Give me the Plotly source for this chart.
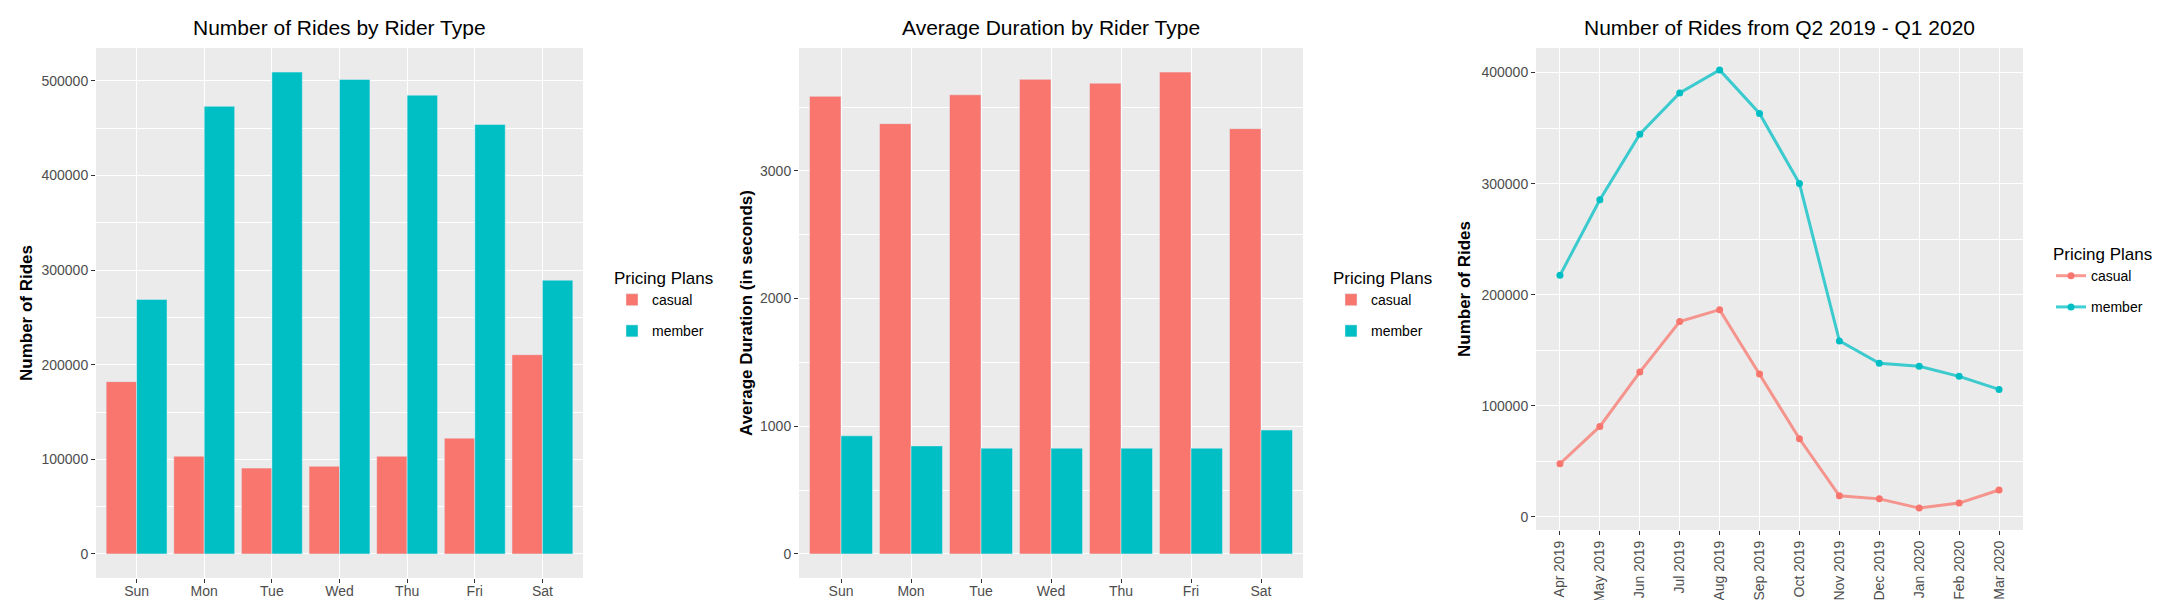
import plotly.graph_objects as go

# ---- data ----
days = ['Sun', 'Mon', 'Tue', 'Wed', 'Thu', 'Fri', 'Sat']
rides_casual = [182100, 103300, 90700, 92700, 103300, 122400, 210600]
rides_member = [269100, 473200, 509400, 501600, 485000, 454000, 289400]

duration_casual = [3584, 3370, 3596, 3717, 3687, 3774, 3331]
duration_member = [925, 846, 828, 828, 828, 828, 970]

months = ['Apr 2019', 'May 2019', 'Jun 2019', 'Jul 2019', 'Aug 2019', 'Sep 2019',
          'Oct 2019', 'Nov 2019', 'Dec 2019', 'Jan 2020', 'Feb 2020', 'Mar 2020']
monthly_casual = [47900, 81500, 130400, 175900, 186600, 128700,
                  70400, 19100, 16300, 8000, 12500, 24300]
monthly_member = [217500, 285500, 344500, 381600, 402400, 363200,
                  300100, 158500, 138400, 135600, 126600, 114800]

W, H = 2160, 600
CASUAL = '#F8766D'
MEMBER = '#00BFC4'
FONT = 'Liberation Sans, Arial, sans-serif'


def bar_range(*series):
    top = max(max(s) for s in series)
    return [-0.05 * top, 1.05 * top]


def line_range(*series):
    lo = min(min(s) for s in series)
    hi = max(max(s) for s in series)
    pad = 0.05 * (hi - lo)
    return [lo - pad, hi + pad]


fig = go.Figure()

# 1. rides by weekday
fig.add_trace(go.Bar(x=days, y=rides_casual, name='casual', marker_color=CASUAL,
                     xaxis='x', yaxis='y', legend='legend', legendgroup='c1'))
fig.add_trace(go.Bar(x=days, y=rides_member, name='member', marker_color=MEMBER,
                     xaxis='x', yaxis='y', legend='legend', legendgroup='m1'))

# 2. average duration by weekday
fig.add_trace(go.Bar(x=days, y=duration_casual, name='casual', marker_color=CASUAL,
                     xaxis='x2', yaxis='y2', legend='legend2', legendgroup='c2'))
fig.add_trace(go.Bar(x=days, y=duration_member, name='member', marker_color=MEMBER,
                     xaxis='x2', yaxis='y2', legend='legend2', legendgroup='m2'))

# 3. monthly rides
fig.add_trace(go.Scatter(x=months, y=monthly_casual, name='casual', mode='lines+markers',
                         line=dict(color='rgba(248,118,109,0.75)', width=3),
                         marker=dict(color=CASUAL, size=7),
                         xaxis='x3', yaxis='y3', legend='legend3', legendgroup='c3'))
fig.add_trace(go.Scatter(x=months, y=monthly_member, name='member', mode='lines+markers',
                         line=dict(color='rgba(0,191,196,0.75)', width=3),
                         marker=dict(color=MEMBER, size=7),
                         xaxis='x3', yaxis='y3', legend='legend3', legendgroup='m3'))

# panel geometry in pixels (left, right, top, bottom)
panels = [(88, 575, 40, 570), (791, 1295, 40, 570), (1528, 2015, 40, 522)]


def dom_x(p):
    return [p[0] / W, p[1] / W]


def dom_y(p):
    return [1 - p[3] / H, 1 - p[2] / H]


tick_font = dict(family=FONT, size=14, color='#4D4D4D')
xcommon = dict(type='category', showgrid=True, gridcolor='white', gridwidth=1.3,
               ticks='outside', ticklen=4, tickcolor='#333333', tickwidth=1,
               tickfont=tick_font, showline=False, zeroline=False)
ycommon = dict(showgrid=True, gridcolor='white', gridwidth=1.3, zeroline=False,
               ticks='outside', ticklen=4, tickcolor='#333333', tickwidth=1,
               tickfont=tick_font, tickformat='d', tick0=0,
               showline=False)

legend_common = dict(xanchor='left', yanchor='top', bgcolor='white',
                     font=dict(family=FONT, size=14, color='black'),
                     tracegroupgap=10, itemwidth=30)

fig.update_layout(
    width=W, height=H,
    margin=dict(l=0, r=0, t=0, b=0),
    paper_bgcolor='white', plot_bgcolor='#EBEBEB',
    barmode='group', bargap=0.1, bargroupgap=0,
    font=dict(family=FONT, color='black'),
    xaxis=dict(xcommon, domain=dom_x(panels[0]), anchor='y', range=[-0.6, 6.6],
               ticklabelstandoff=-4),
    yaxis=dict(ycommon, domain=dom_y(panels[0]), anchor='x',
               range=bar_range(rides_casual, rides_member), dtick=100000,
               minor=dict(dtick=50000, showgrid=True, gridcolor='white', gridwidth=0.6)),
    xaxis2=dict(xcommon, domain=dom_x(panels[1]), anchor='y2', range=[-0.6, 6.6],
                ticklabelstandoff=-4),
    yaxis2=dict(ycommon, domain=dom_y(panels[1]), anchor='x2',
                range=bar_range(duration_casual, duration_member), dtick=1000,
                minor=dict(dtick=500, showgrid=True, gridcolor='white', gridwidth=0.6)),
    xaxis3=dict(xcommon, domain=dom_x(panels[2]), anchor='y3', range=[-0.6, 11.6],
                tickangle=-90),
    yaxis3=dict(ycommon, domain=dom_y(panels[2]), anchor='x3',
                range=line_range(monthly_casual, monthly_member), dtick=100000,
                minor=dict(dtick=50000, showgrid=True, gridcolor='white', gridwidth=0.6)),
    legend=dict(legend_common, x=604 / W, y=1 - 254 / H,
                title=dict(text='Pricing Plans', font=dict(family=FONT, size=17))),
    legend2=dict(legend_common, x=1323 / W, y=1 - 254 / H,
                 title=dict(text='Pricing Plans', font=dict(family=FONT, size=17))),
    legend3=dict(legend_common, x=2043 / W, y=1 - 230 / H,
                 title=dict(text='Pricing Plans', font=dict(family=FONT, size=17))),
)

titles = ['Number of Rides by Rider Type', 'Average Duration by Rider Type',
          'Number of Rides from Q2 2019 - Q1 2020']
ytitles = ['Number of Rides', 'Average Duration (in seconds)', 'Number of Rides']
ytitle_x = [18, 738, 1457]

for p, t, yt, yx in zip(panels, titles, ytitles, ytitle_x):
    fig.add_annotation(text=t, x=(p[0] + p[1]) / 2 / W, y=1 - 20 / H,
                       xref='paper', yref='paper', showarrow=False,
                       xanchor='center', yanchor='middle',
                       font=dict(family=FONT, size=21, color='black'))
    fig.add_annotation(text='<b>' + yt + '</b>', x=yx / W, y=1 - (p[2] + p[3]) / 2 / H,
                       xref='paper', yref='paper', showarrow=False, textangle=-90,
                       xanchor='center', yanchor='middle',
                       font=dict(family=FONT, size=17, color='black'))

fig.write_html('out.html')
